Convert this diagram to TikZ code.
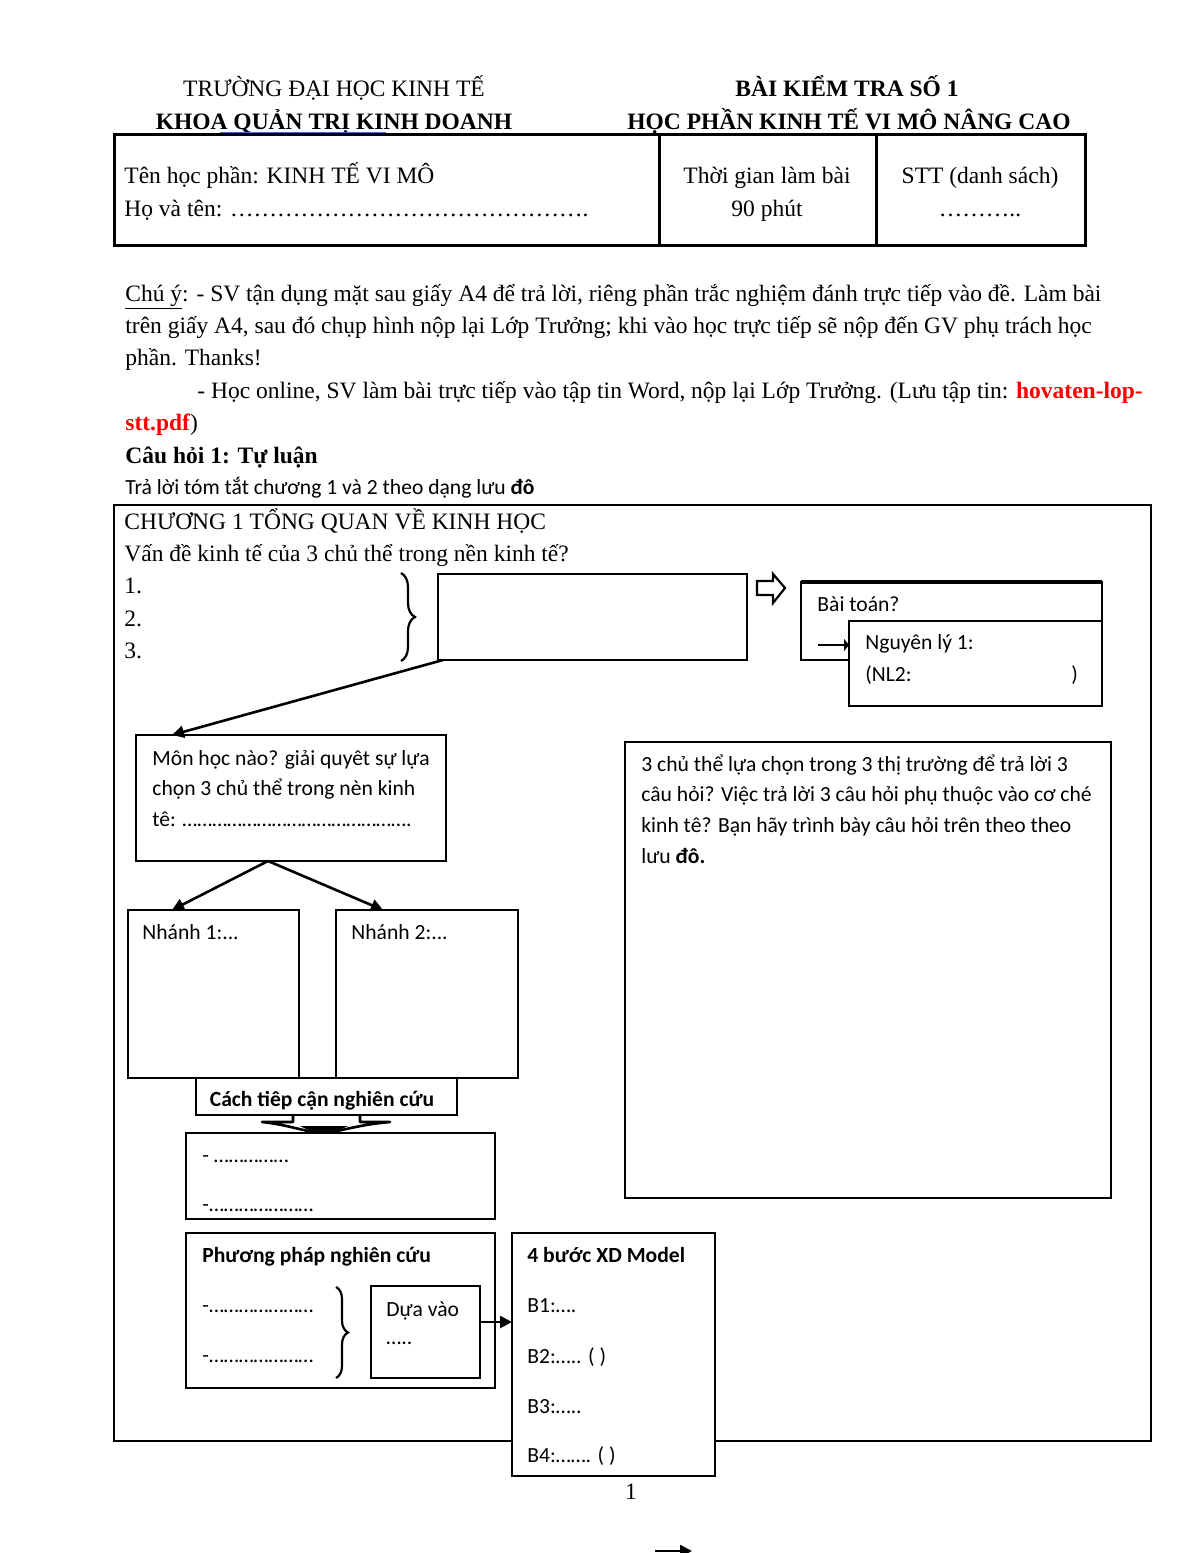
\documentclass[tikz,border=0pt]{standalone}
\usepackage{fontspec}
\setmainfont{Liberation Serif}
\newfontfamily\calfont{Carlito}
\usetikzlibrary{arrows.meta,fit,decorations.pathreplacing}
\definecolor{redtxt}{RGB}{255,0,0}
\definecolor{bluel}{RGB}{68,114,196}
\begin{document}
\begin{tikzpicture}[x=0.5pt,y=-0.5pt,
  box/.style={draw,line width=1.3pt,fill=white,inner sep=0pt,outer sep=0pt},
  ser/.style={font=\fontsize{11.75}{13}\selectfont,inner sep=0pt,anchor=base west},
  serc/.style={font=\fontsize{11.75}{13}\selectfont,inner sep=0pt,anchor=base},
  cal/.style={font=\calfont\fontsize{10.8}{12}\selectfont,inner sep=0pt,anchor=base west},
  calb/.style={font=\calfont\bfseries\fontsize{10.8}{12}\selectfont,inner sep=0pt,anchor=base west},
  arr/.style={line width=1.3pt,-{Triangle[length=6pt,width=6pt]}},
  brc/.style={decorate,line width=1.1pt},
]
\useasboundingbox (0,0) rectangle (1200,1553);

% ---------- header ----------
\node[serc] (h1) at (334,96) {TRƯỜNG ĐẠI HỌC KINH TẾ};
\node[serc,font=\bfseries\fontsize{11.75}{13}\selectfont] (h2) at (334,129) {KHOA QUẢN TRỊ KINH DOANH};
\node[serc,font=\bfseries\fontsize{11.75}{13}\selectfont] (h3) at (847,96) {BÀI KIỂM TRA SỐ 1};
\node[serc,font=\bfseries\fontsize{11.75}{13}\selectfont] (h4) at (849,129) {HỌC PHẦN KINH TẾ VI MÔ NÂNG CAO};
\draw[bluel,line width=1pt] (220,132.5) -- (386,132.5);

% ---------- table ----------
\node[box,line width=1.5pt,fill=none,fit={(114,134) (1085,245)}] (tbl) {};
\draw[line width=1.5pt] (659,134) -- (659,245);
\draw[line width=1.5pt] (876,134) -- (876,245);
\node[ser] (t1) at (124,183) {Tên học phần: KINH TẾ VI MÔ};
\node[ser] (t2) at (124,216) {Họ và tên: ……………………………………….};
\node[serc] (t3) at (767,183) {Thời gian làm bài};
\node[serc] (t4) at (767,216) {90 phút};
\node[serc] (t5) at (980,183) {STT (danh sách)};
\node[serc] (t6) at (980,216) {………..};

% ---------- notes ----------
\node[ser] (n1) at (125,301) {\underline{Chú ý}: - SV tận dụng mặt sau giấy A4 để trả lời, riêng phần trắc nghiệm đánh trực tiếp vào đề. Làm bài};
\node[ser] (n2) at (125,333) {trên giấy A4, sau đó chụp hình nộp lại Lớp Trưởng; khi vào học trực tiếp sẽ nộp đến GV phụ trách học};
\node[ser] (n3) at (125,365) {phần. Thanks!};
\node[ser] (n4) at (197,398) {- Học online, SV làm bài trực tiếp vào tập tin Word, nộp lại Lớp Trưởng. (Lưu tập tin: \textcolor{redtxt}{\bfseries hovaten-lop-}};
\node[ser] (n5) at (125,430) {\textcolor{redtxt}{\bfseries stt.pdf})};
\node[ser,font=\bfseries\fontsize{11.75}{13}\selectfont] (n6) at (125,463) {Câu hỏi 1: Tự luận};
\node[cal] (n7) at (125,494) {Trả lời tóm tắt chương 1 và 2 theo dạng lưu \textbf{đô}};

% ---------- main frame ----------
\node[box,line width=1.2pt,fit={(114,505) (1151,1441)}] (frame) {};
\node[ser] (c1) at (124,529) {CHƯƠNG 1 TỔNG QUAN VỀ KINH HỌC};
\node[ser] (c2) at (124,561) {Vấn đề kinh tế của 3 chủ thể trong nền kinh tế?};
\node[ser] (c3) at (124,593) {1.};
\node[ser] (c4) at (124,626) {2.};
\node[ser] (c5) at (124,658) {3.};
\draw[brc,decoration={brace,amplitude=7pt}] (401,573) -- (401,661);

\node[box,fit={(438,574) (747,660)}] (boxA) {};
\draw[line width=1.1pt,fill=white] (757,581) -- (773,581) -- (773,574) -- (785,588) -- (773,603) -- (773,595) -- (757,595) -- cycle;

\node[box,fit={(801,582) (1102,660)}] (bai) {};
\draw[line width=2.2pt] (bai.north west) -- (bai.north east);
\node[cal] (baitxt) at (817,611) {Bài toán?};
\node[box,fit={(849,621) (1102,706)}] (ngl) {};
\node[cal] (ngl1) at (865,649) {Nguyên lý 1:};
\node[cal] (ngl2) at (865,681) {(NL2:};
\node[cal] (ngl3) at (1071,681) {)};
\coordinate (nls) at (818,645);
\draw[line width=1.3pt,-{Triangle[length=2.5pt,width=6pt]}] (nls) -- (nls -| ngl.west);

\node[box,fit={(136,735) (446,861)}] (mon) {};
\node[cal] (mon1) at (152,765) {Môn học nào? giải quyêt sự lựa};
\node[cal] (mon2) at (152,795) {chọn 3 chủ thể trong nèn kinh};
\node[cal] (mon3) at (152,826) {tê: ……………………………………….};
\draw[arr] ([xshift=2.5pt]boxA.south west) -- ([xshift=18pt]mon.north west);

\node[box,fit={(128,910) (299,1078)}] (nh1) {};
\node[cal] (nh1t) at (142,939) {Nhánh 1:...};
\node[box,fit={(336,910) (518,1078)}] (nh2) {};
\node[cal] (nh2t) at (351,939) {Nhánh 2:...};
\draw[arr] ([xshift=-11.5pt]mon.south) -- ([xshift=22pt]nh1.north west);
\draw[arr] ([xshift=-11.5pt]mon.south) -- ([xshift=23.5pt]nh2.north west);

\node[box,fit={(196,1078) (457,1115)}] (cach) {};
\node[calb,anchor=base] (cacht) at (322,1106) {Cách tiêp cận nghiên cứu};
\draw[line width=1.3pt,line join=round] (293,1115) -- (293,1122) -- (262,1122)
   .. controls (290,1125) and (305,1132) .. (322,1133)
   .. controls (340,1132) and (355,1125) .. (390,1122) -- (360,1122) -- (360,1115);
\fill (300,1126) .. controls (310,1131) and (316,1133) .. (322,1133) .. controls (330,1133) and (338,1131) .. (348,1126) -- cycle;

\node[box,fit={(186,1133) (495,1219)}] (ctc) {};
\node[cal] (ctc1) at (202,1162) {- ……………};
\node[cal] (ctc2) at (202,1211) {-…………………};

\node[box,fit={(186,1233) (495,1388)}] (ppnc) {};
\node[calb] (ppt) at (202,1262) {Phương pháp nghiên cứu};
\node[cal] (pp1) at (202,1312) {-…………………};
\node[cal] (pp2) at (202,1362) {-…………………};
\draw[brc,decoration={brace,amplitude=6pt}] (336,1287) -- (336,1378);
\node[box,fit={(371,1286) (480,1378)}] (dua) {};
\node[cal] (dua1) at (386,1316) {Dựa vào};
\node[cal] (dua2) at (386,1344) {…..};

\node[box,fit={(512,1233) (715,1476)}] (b4) {};
\node[calb] (b4t) at (527,1262) {4 bước XD Model};
\node[cal] (b41) at (527,1312) {B1:….};
\node[cal] (b42) at (527,1363) {B2:….. ( )};
\node[cal] (b43) at (527,1413) {B3:…..};
\node[cal] (b44) at (527,1462) {B4:……. ( )};
\draw[arr] ([yshift=5pt]dua.east) -- ([yshift=5pt]dua.east -| b4.west);

\node[box,fit={(625,742) (1111,1198)}] (rbox) {};
\node[cal] (r1) at (641,771) {3 chủ thể lựa chọn trong 3 thị trường để trả lời 3};
\node[cal] (r2) at (641,801) {câu hỏi? Việc trả lời 3 câu hỏi phụ thuộc vào cơ ché};
\node[cal] (r3) at (641,832) {kinh tê? Bạn hãy trình bày câu hỏi trên theo theo};
\node[cal] (r4) at (641,863) {lưu \textbf{đô.}};

\node[serc] (pg) at (631,1499) {1};
\coordinate (bf1) at (655,1551);
\coordinate (bf2) at (692,1551);
\draw[arr] (bf1) -- (bf2);
\end{tikzpicture}
\end{document}
